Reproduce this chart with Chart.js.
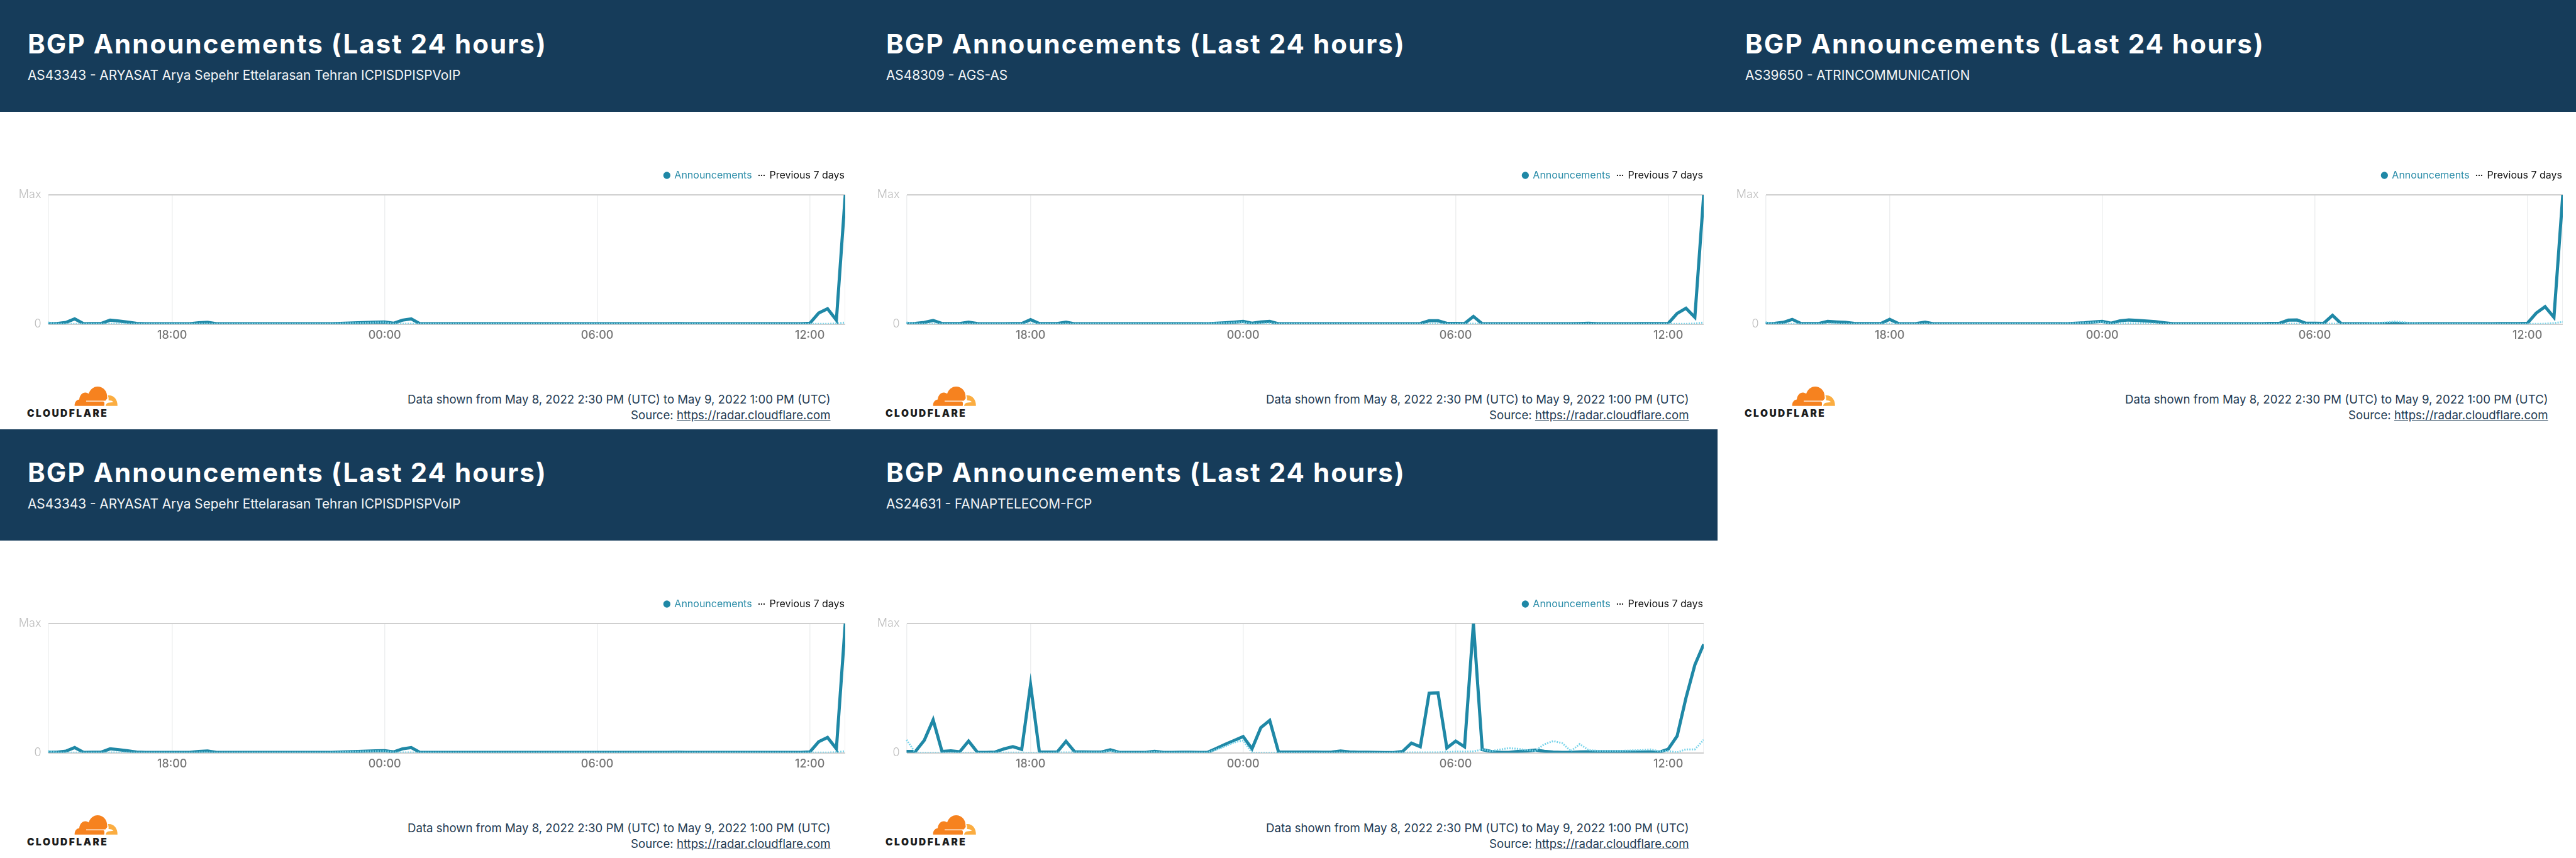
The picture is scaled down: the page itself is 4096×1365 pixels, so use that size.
<!DOCTYPE html>
<html>
<head>
<meta charset="utf-8">
<script src="https://cdn.jsdelivr.net/npm/chart.js@4/dist/chart.umd.min.js"></script>
<style>
html,body{margin:0;padding:0;background:#fff;width:4096px;height:1365px;overflow:hidden;font-family:Inter,sans-serif}
.abs{position:absolute;white-space:nowrap}
.hdr{background:#163c5a}
.title{color:#fff;font-weight:700;font-size:42px;letter-spacing:2.05px;line-height:50px}
.sub{color:#f2f5f7;font-size:20.8px;line-height:28px}
.foot{color:#1e3a52;font-size:18.6px;line-height:28px;text-align:right}
.foot a{color:#1e3a52;text-decoration:underline}
.cf{color:#1c1c1c;font-weight:900;font-size:15.5px;line-height:16px;letter-spacing:2.5px}
canvas{position:absolute}
</style>
</head>
<body>
<script>
const chartTitle = 'BGP Announcements (Last 24 hours)';
const asNames = [
  'AS43343 - ARYASAT Arya Sepehr Ettelarasan Tehran ICPISDPISPVoIP',
  'AS48309 - AGS-AS',
  'AS39650 - ATRINCOMMUNICATION',
  'AS43343 - ARYASAT Arya Sepehr Ettelarasan Tehran ICPISDPISPVoIP',
  'AS24631 - FANAPTELECOM-FCP'
];
const seriesNames = ['Announcements', 'Previous 7 days'];
const dataRange = 'Data shown from May 8, 2022 2:30 PM (UTC) to May 9, 2022 1:00 PM (UTC)';
const sourceLabel = 'Source: ';
const sourceUrl = 'https://radar.cloudflare.com';
const yTickLabels = ['0', 'Max'];
const xTickLabels = ['18:00', '00:00', '06:00', '12:00'];
const times = [
 '14:30','14:45','15:00','15:15','15:30','15:45','16:00','16:15','16:30','16:45',
 '17:00','17:15','17:30','17:45','18:00','18:15','18:30','18:45','19:00','19:15',
 '19:30','19:45','20:00','20:15','20:30','20:45','21:00','21:15','21:30','21:45',
 '22:00','22:15','22:30','22:45','23:00','23:15','23:30','23:45','00:00','00:15',
 '00:30','00:45','01:00','01:15','01:30','01:45','02:00','02:15','02:30','02:45',
 '03:00','03:15','03:30','03:45','04:00','04:15','04:30','04:45','05:00','05:15',
 '05:30','05:45','06:00','06:15','06:30','06:45','07:00','07:15','07:30','07:45',
 '08:00','08:15','08:30','08:45','09:00','09:15','09:30','09:45','10:00','10:15',
 '10:30','10:45','11:00','11:15','11:30','11:45','12:00','12:15','12:30','12:45',
 '13:00'
];
const annAS43343 = [
 .004,.004,.012,.04,.003,.004,.004,.03,.023,.015,
 .005,.002,.002,.002,.002,.002,.002,.01,.013,.002,
 .002,.002,.002,.002,.002,.002,.002,.002,.002,.002,
 .002,.002,.003,.005,.007,.01,.012,.015,.016,.006,
 .03,.04,.002,.002,.002,.002,.002,.002,.002,.002,
 .002,.002,.002,.002,.002,.002,.002,.002,.002,.002,
 .002,.002,.002,.002,.002,.002,.002,.002,.002,.002,
 .002,.004,.002,.002,.002,.002,.002,.002,.002,.002,
 .002,.003,.003,.003,.003,.003,.006,.085,.118,.03,
 1
];
const prevAS43343 = [
 .012,.002,.001,.001,.001,.001,.001,.002,.002,.001,
 .001,.001,.001,.001,.001,.001,.001,.002,.002,.001,
 .001,.001,.001,.001,.001,.001,.001,.001,.001,.001,
 .001,.001,.002,.004,.006,.008,.01,.012,.013,.003,
 .002,.002,.001,.001,.001,.001,.001,.001,.001,.001,
 .001,.001,.001,.001,.001,.001,.001,.001,.001,.001,
 .001,.001,.001,.001,.001,.001,.001,.001,.001,.001,
 .001,.002,.001,.001,.001,.001,.001,.001,.001,.001,
 .001,.001,.001,.001,.001,.001,.001,.001,.001,.004,
 .012
];
const annAS48309 = [
 .004,.005,.012,.028,.004,.004,.004,.015,.004,.003,
 .003,.003,.004,.004,.034,.004,.004,.004,.015,.002,
 .002,.002,.002,.002,.002,.002,.002,.002,.002,.002,
 .002,.002,.002,.002,.002,.006,.01,.015,.02,.006,
 .016,.021,.002,.002,.002,.002,.002,.002,.002,.002,
 .002,.002,.002,.002,.002,.002,.002,.003,.004,.025,
 .025,.005,.005,.004,.059,.002,.002,.002,.002,.002,
 .002,.002,.002,.002,.002,.002,.004,.006,.003,.002,
 .002,.002,.003,.004,.004,.004,.005,.082,.122,.052,
 1
];
const prevAS48309 = [
 .012,.002,.001,.001,.001,.001,.001,.002,.001,.001,
 .001,.001,.001,.001,.003,.001,.001,.001,.002,.001,
 .001,.001,.001,.001,.001,.001,.001,.001,.001,.001,
 .001,.001,.001,.001,.003,.006,.008,.011,.013,.002,
 .003,.005,.001,.001,.001,.001,.001,.001,.001,.001,
 .001,.001,.001,.001,.001,.001,.001,.001,.001,.002,
 .002,.001,.001,.001,.003,.001,.001,.001,.001,.001,
 .001,.001,.001,.001,.001,.001,.001,.002,.001,.001,
 .001,.001,.001,.001,.001,.001,.001,.001,.001,.004,
 .012
];
const annAS39650 = [
 .004,.005,.013,.036,.004,.004,.004,.02,.016,.013,
 .005,.004,.004,.004,.036,.004,.003,.004,.015,.002,
 .002,.002,.002,.002,.002,.002,.002,.002,.002,.002,
 .002,.002,.002,.002,.002,.006,.01,.016,.021,.006,
 .025,.031,.028,.023,.018,.01,.002,.002,.002,.002,
 .002,.002,.002,.002,.002,.002,.002,.005,.005,.03,
 .031,.006,.006,.005,.067,.002,.002,.002,.002,.002,
 .005,.006,.004,.002,.002,.002,.002,.002,.002,.002,
 .002,.002,.003,.004,.004,.004,.006,.085,.134,.052,
 1
];
const prevAS39650 = [
 .014,.002,.001,.001,.001,.001,.001,.002,.002,.001,
 .001,.001,.001,.001,.003,.001,.001,.001,.002,.001,
 .001,.001,.001,.001,.001,.001,.001,.001,.001,.001,
 .001,.001,.001,.001,.003,.006,.009,.012,.014,.002,
 .004,.006,.005,.004,.002,.001,.001,.001,.001,.001,
 .001,.001,.001,.001,.001,.001,.001,.001,.001,.002,
 .002,.001,.001,.001,.003,.001,.001,.001,.002,.008,
 .012,.02,.014,.006,.002,.001,.001,.001,.001,.001,
 .001,.001,.001,.001,.001,.001,.001,.001,.002,.008,
 .016
];
const annAS24631 = [
 .01,.01,.096,.254,.01,.015,.007,.09,.003,.003,
 .005,.03,.047,.026,.526,.005,.005,.005,.088,.006,
 .006,.005,.005,.023,.003,.003,.003,.003,.011,.003,
 .003,.004,.004,.003,.003,.034,.065,.095,.125,.03,
 .194,.25,.005,.005,.005,.005,.005,.004,.005,.013,
 .006,.004,.004,.003,.001,.001,.01,.075,.046,.46,
 .464,.037,.09,.046,1,.024,.01,.003,.003,.01,
 .013,.02,.011,.005,.003,.003,.006,.007,.007,.007,
 .007,.007,.006,.006,.006,.004,.028,.129,.425,.68,
 .84
];
const prevAS24631 = [
 .1,0,0,0,0,0,0,0,0,0,
 .001,.001,.001,.001,0,0,0,.002,.002,.003,
 .002,.002,.002,.012,.002,.001,.001,.002,.005,.001,
 .001,.001,.001,.001,.001,.025,.05,.08,.095,0,
 0,0,0,0,0,0,0,0,0,.002,
 0,0,0,0,0,.001,.001,.002,.002,.002,
 .003,.005,.008,.008,.01,.025,.012,.025,.035,.03,
 .02,.015,.065,.09,.075,.013,.067,.02,.015,.015,
 .015,.015,.018,.02,.025,.012,.012,.003,.026,.026,
 .1
];
const panels = [
 {x:0,    y:0,   name:asNames[0], ann:annAS43343, prev:prevAS43343},
 {x:1365, y:0,   name:asNames[1], ann:annAS48309, prev:prevAS48309},
 {x:2731, y:0,   name:asNames[2], ann:annAS39650, prev:prevAS39650},
 {x:0,    y:682, name:asNames[3], ann:annAS43343, prev:prevAS43343},
 {x:1365, y:682, name:asNames[4], ann:annAS24631, prev:prevAS24631}
];
const colAnn = '#1f88a6', colPrev = '#7ad4ea', colGrid = '#eeeff0', colAxis = '#cfcfcf';

const legendGap = {
  id:'legendGap',
  beforeInit(chart){
    const lg = chart.legend;
    const f = lg.fit, d = lg.draw;
    lg.fit = function(){ f.call(this); this.height += 13; };
    lg.draw = function(){
      const ctx = this.ctx;
      ctx.save(); ctx.translate(11, 0);
      d.call(this);
      ctx.restore();
    };
  }
};

function el(cls, css, html){
  const d = document.createElement('div');
  d.className = 'abs ' + cls;
  Object.assign(d.style, css);
  d.innerHTML = html;
  document.body.appendChild(d);
  return d;
}
function logo(px, py){
  const ns = 'http://www.w3.org/2000/svg';
  const s = document.createElementNS(ns,'svg');
  s.setAttribute('width','80'); s.setAttribute('height','40');
  s.setAttribute('viewBox','112 610 80 40');
  s.style.cssText = 'position:absolute;left:'+(px+112)+'px;top:'+(py+610)+'px';
  s.innerHTML =
   '<path fill="#f6821f" d="M118.7 645.7C118.4 640 121.5 636.4 126 635.6C126.6 628.6 131 624.2 136 624.4C138 624.5 139.8 625.4 141 626.6C143 619.8 148.6 615 155.2 615C163 615 169 620.6 170 628L170.6 633.8L167.6 637.4L137 637.4L137 638.8L164 638.8C166 638.9 166.6 641.6 165.7 645.7Z"/>'+
   '<path fill="#fbad41" d="M168 645.7C168.2 643.4 169.6 641.6 172 640.8L180.4 639.8C178.4 637.4 175.6 636.8 172.6 637C172.9 634 172.6 631.4 171.4 629.2C180.6 628 187.2 635.6 186.8 645.7Z"/>';
  document.body.appendChild(s);
}

panels.forEach(p => {
  el('hdr', {left:p.x+'px', top:(p.y===0?0:p.y+1)+'px', width:(p.x===1365?1366:1365)+'px', height:(p.y===0?177.5:177)+'px'}, '');
  el('title', {left:(p.x+44)+'px', top:(p.y+45)+'px'}, chartTitle);
  el('sub', {left:(p.x+44)+'px', top:(p.y+106)+'px'}, p.name);
  el('foot', {right:(4096-(p.x+1320.5))+'px', top:(p.y+621)+'px'}, dataRange);
  el('foot', {right:(4096-(p.x+1320.5))+'px', top:(p.y+646)+'px'}, sourceLabel+'<a>'+sourceUrl+'</a>');
  logo(p.x, p.y);
  el('cf', {left:(p.x+43)+'px', top:(p.y+650)+'px'}, 'CLOUDFLARE');

  const c = document.createElement('canvas');
  c.width = 1344; c.height = 302;
  c.style.left = p.x+'px'; c.style.top = (p.y+259)+'px';
  c.style.width = '1344px'; c.style.height = '302px';
  document.body.appendChild(c);
  new Chart(c, {
    type:'line',
    plugins:[legendGap],
    data:{
      labels: times,
      datasets:[
        {label:seriesNames[0], data:p.ann, borderColor:colAnn, borderWidth:5, pointRadius:0, tension:0, order:2},
        {label:seriesNames[1], data:p.prev, borderColor:colPrev, borderWidth:3, borderDash:[2,2], pointRadius:0, tension:0, order:1}
      ]
    },
    options:{
      responsive:false, animation:false, devicePixelRatio:1,
      layout:{padding:0, autoPadding:false},
      plugins:{
        tooltip:{enabled:false},
        legend:{
          position:'top', align:'end',
          labels:{
            usePointStyle:true, boxWidth:8, boxHeight:8, padding:12,
            font:{family:'Inter', size:16},
            generateLabels(){
              return [
               {text:seriesNames[0], fillStyle:colAnn, strokeStyle:colAnn, lineWidth:0, fontColor:'#2a8ca8', pointStyle:'circle', datasetIndex:0, hidden:false},
               {text:seriesNames[1], fillStyle:'#222', strokeStyle:'#222', lineWidth:2, lineDash:[2,2], fontColor:'#111', pointStyle:'line', datasetIndex:1, hidden:false}
              ];
            }
          }
        }
      },
      scales:{
        x:{
          type:'category', offset:false,
          afterFit(a){ a.height = 45.5; },
          afterBuildTicks(a){
            const last = times.length-1;
            a.ticks = a.ticks.filter(t => t.value===0 || t.value===last || xTickLabels.includes(times[t.value]));
          },
          grid:{color:colGrid, lineWidth:1.5, drawTicks:true, tickLength:7, tickColor:'rgba(0,0,0,0)'},
          border:{display:false},
          ticks:{
            autoSkip:false, maxRotation:0, minRotation:0, padding:0, color:'#767676',
            font:{family:'Inter', size:18, weight:'500'},
            callback(v){ const l = times[v]; return xTickLabels.includes(l) ? l : ''; }
          }
        },
        y:{
          min:0, max:1,
          afterFit(a){ a.width = 76.5; },
          afterBuildTicks(a){ a.ticks = [{value:0},{value:1}]; },
          grid:{color:colAxis, lineWidth:2, drawTicks:false},
          border:{display:false},
          ticks:{
            padding:11, color:'#bdbdbd',
            font:{family:'Inter', size:18, weight:'300'},
            callback(v){ return v===0 ? yTickLabels[0] : yTickLabels[1]; }
          }
        }
      }
    }
  });
});
</script>
</body>
</html>
